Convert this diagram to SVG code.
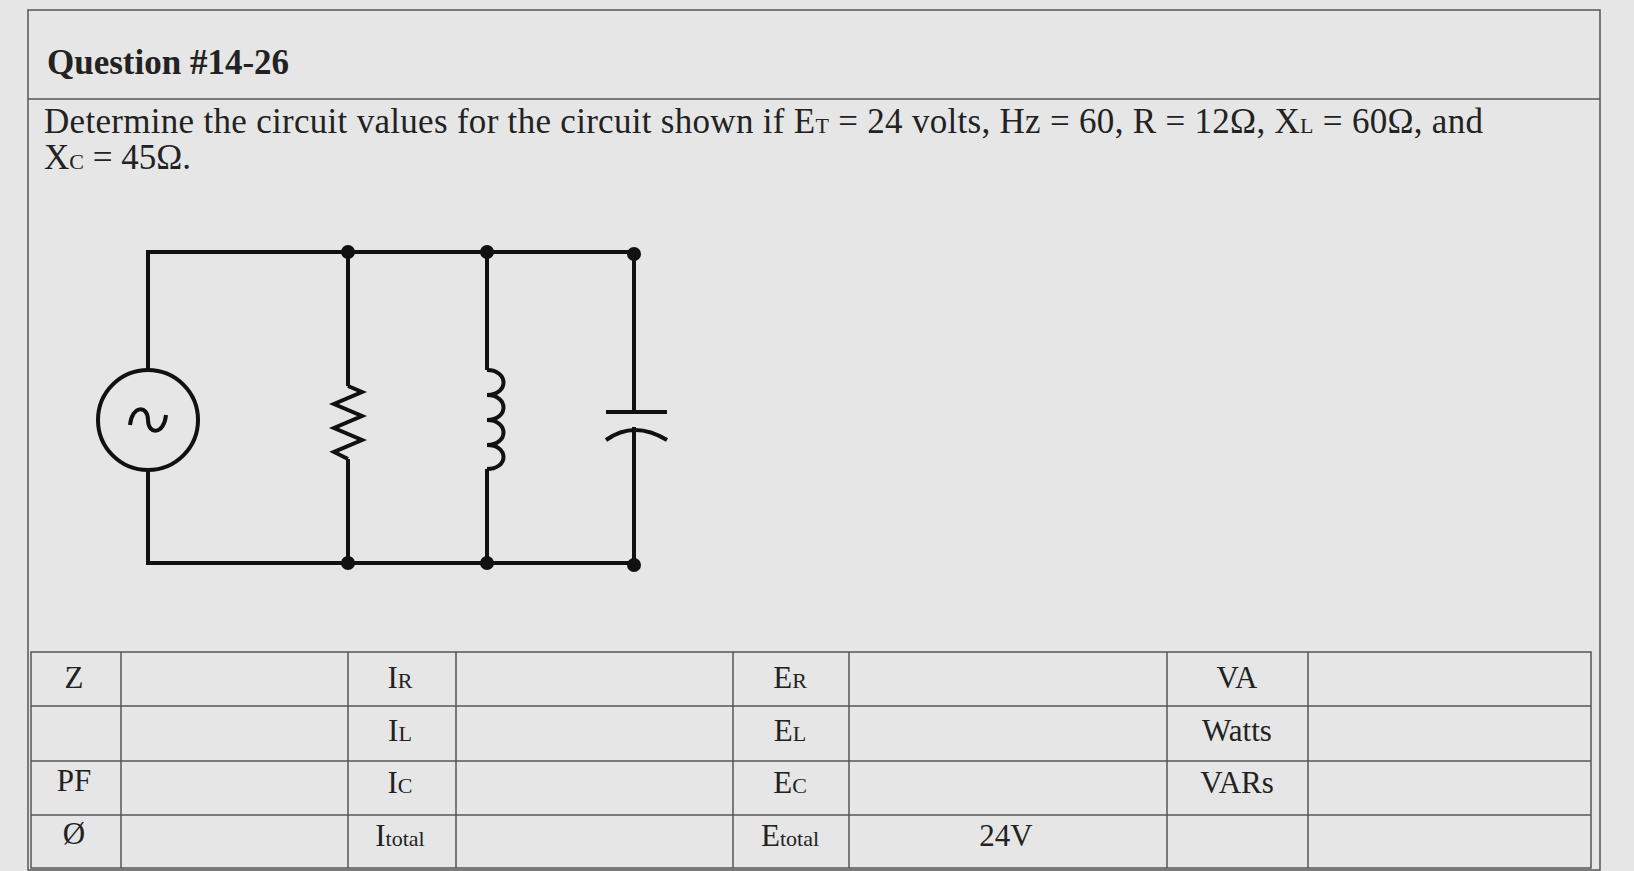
<svg xmlns="http://www.w3.org/2000/svg" width="1634" height="871" viewBox="0 0 1634 871">
<style>
.t{font-family:"Liberation Serif",serif;font-size:35px;fill:#222}
.c{font-family:"Liberation Serif",serif;font-size:31px;fill:#222;text-anchor:middle}
.s{font-size:22px}
.w{stroke:#111;stroke-width:4;fill:none}
.g{stroke:#555;stroke-width:1.5;fill:none}
</style>
<rect width="1634" height="871" fill="#e6e6e6"/>
<rect x="28" y="10" width="1572" height="860" fill="#ececec" class="g"/>
<line x1="28" y1="99" x2="1600" y2="99" class="g"/>
<text x="47" y="74" class="t" font-weight="bold" font-size="34">Question #14-26</text>
<text x="44" y="133" class="t" textLength="1439" lengthAdjust="spacing">Determine the circuit values for the circuit shown if E<tspan class="s">T</tspan> = 24 volts, Hz = 60, R = 12Ω, X<tspan class="s">L</tspan> = 60Ω, and</text>
<text x="44" y="169" class="t">X<tspan class="s">C</tspan> = 45Ω.</text>
<g id="circuit">
<g id="wires">
<path class="w" d="M148 370 V252 H634 V412 M148 470 V563 H634 V427 M348 252 V386 M348 459 V563 M487 252 V370 M487 469 V563"/>
</g>
<g id="source"><circle cx="148" cy="420" r="50" class="w" fill="#f0f0f0"/><path class="w" d="M130 425 C132 405 148 405 148 420 C148 435 164 435 166 415"/></g>
<g id="resistor"><path class="w" d="M348 386 L362 392 L334 404 L362 416 L334 428 L362 440 L334 452 L348 459"/></g>
<g id="inductor"><path class="w" d="M487 370 C509 370 509 395 487 395 C509 395 509 420 487 420 C509 420 509 445 487 445 C509 445 509 469 487 469"/></g>
<g id="capacitor"><path class="w" d="M606 412 H667 M606 440 Q634 420 667 440"/></g>
<g id="nodes" fill="#111"><circle cx="348" cy="252" r="7"/><circle cx="487" cy="252" r="7"/><circle cx="634" cy="254" r="7"/><circle cx="348" cy="563" r="7"/><circle cx="487" cy="563" r="7"/><circle cx="634" cy="565" r="7"/></g>
</g>
<g id="table">
<rect x="31" y="652" width="1560" height="216" fill="#efefef" class="g"/>
<path class="g" d="M31 706 H1591 M31 761 H1591 M31 815 H1591 M121 652 V868 M348 652 V868 M456 652 V868 M733 652 V868 M849 652 V868 M1167 652 V868 M1308 652 V868"/>
<text class="c" x="74" y="688">Z</text>
<text class="c" x="74" y="791">PF</text>
<text class="c" x="74" y="844">Ø</text>
<text class="c" x="400" y="688">I<tspan class="s">R</tspan></text>
<text class="c" x="400" y="741">I<tspan class="s">L</tspan></text>
<text class="c" x="400" y="793">I<tspan class="s">C</tspan></text>
<text class="c" x="400" y="846">I<tspan class="s">total</tspan></text>
<text class="c" x="790" y="688">E<tspan class="s">R</tspan></text>
<text class="c" x="790" y="741">E<tspan class="s">L</tspan></text>
<text class="c" x="790" y="793">E<tspan class="s">C</tspan></text>
<text class="c" x="790" y="846">E<tspan class="s">total</tspan></text>
<text class="c" x="1006" y="846">24V</text>
<text class="c" x="1237" y="688">VA</text>
<text class="c" x="1237" y="741">Watts</text>
<text class="c" x="1237" y="793">VARs</text>
</g>
</svg>
